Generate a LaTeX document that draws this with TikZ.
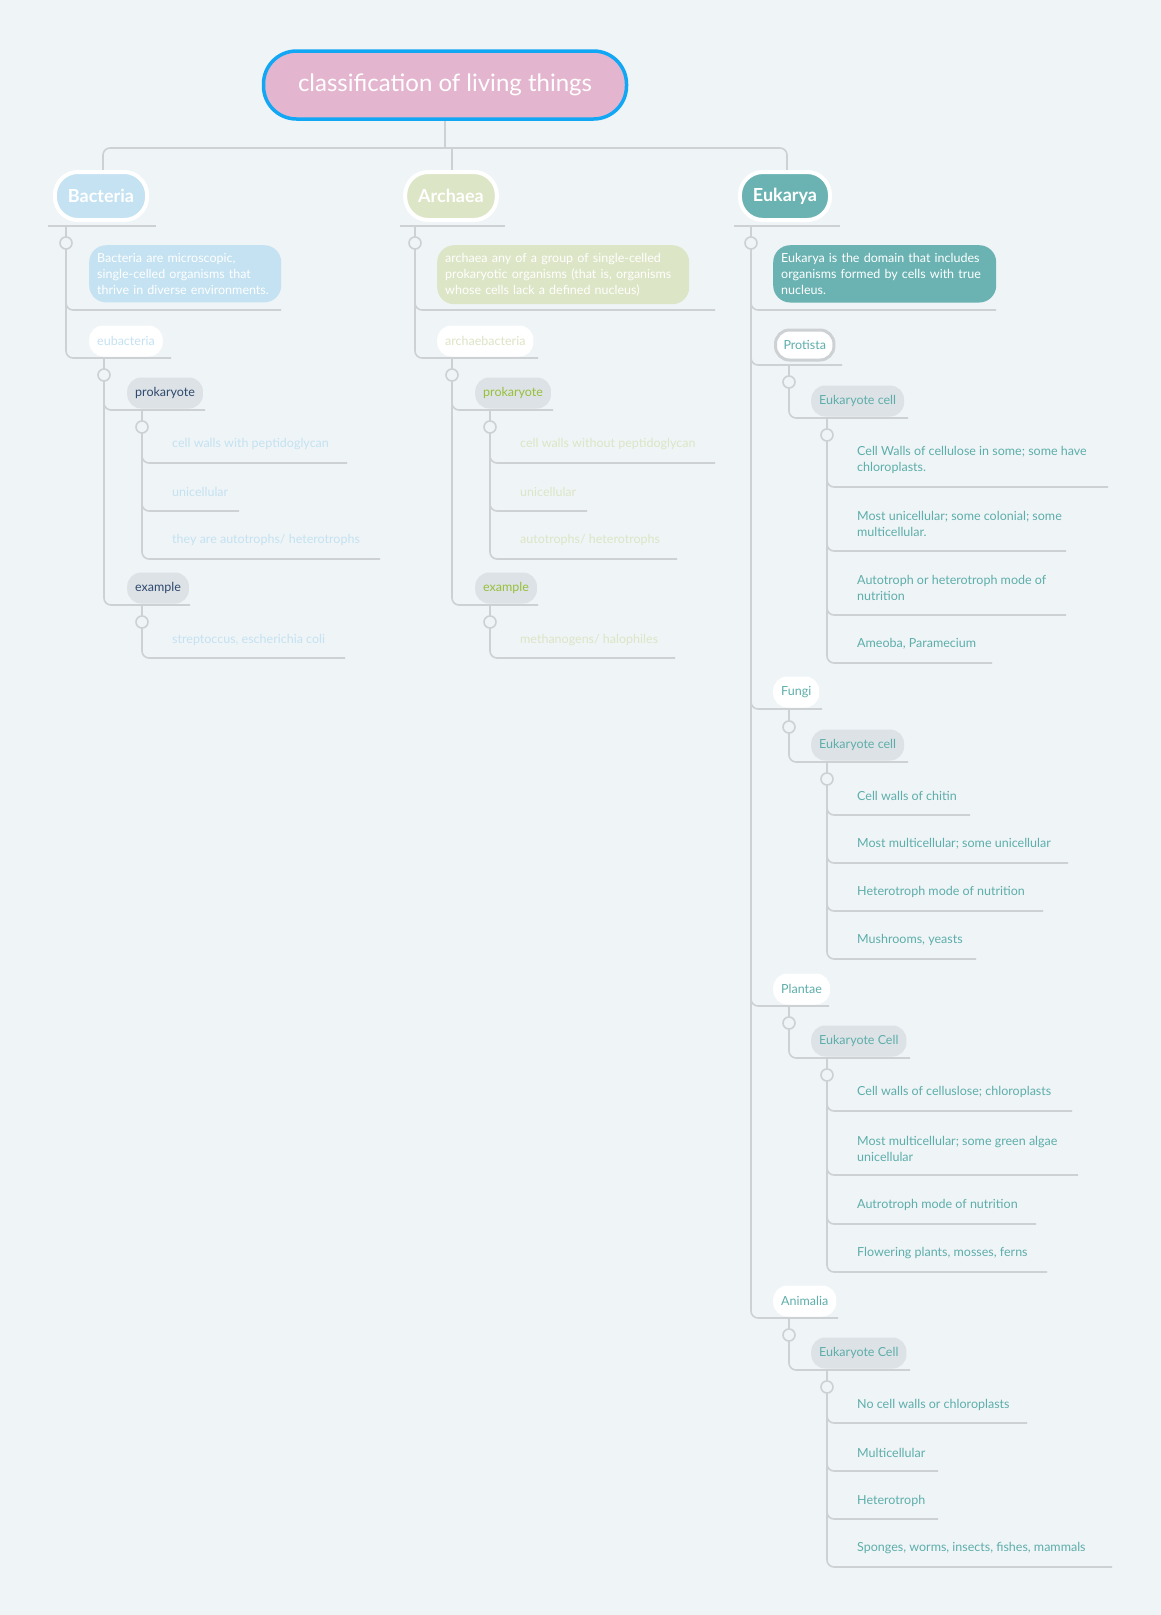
\documentclass[tikz,border=0pt]{standalone}
\usepackage{fontspec}
\setmainfont{Lato}
\definecolor{bg}{HTML}{EFF4F7}
\definecolor{ln}{HTML}{CDD1D4}
\definecolor{rootf}{HTML}{E4B5CE}
\definecolor{rootb}{HTML}{12A7F5}
\definecolor{bac}{HTML}{C4E2F1}
\definecolor{arc}{HTML}{DCE5C5}
\definecolor{euk}{HTML}{6AB3B2}
\definecolor{gp}{HTML}{DDE2E6}
\definecolor{dblue}{HTML}{2E4A6E}
\definecolor{grn}{HTML}{97C03A}
\definecolor{eukt}{HTML}{5DAEAA}
\tikzset{
 lnk/.style={draw=ln,line width=1.6pt,rounded corners=7pt},
 circ/.style={circle,draw=ln,line width=1.6pt,fill=bg,minimum size=12pt,inner sep=0pt},
 pill/.style={rounded corners=14pt,minimum height=31pt,inner xsep=8pt,anchor=west,font=\fontsize{12.5}{14}\selectfont},
 dom/.style={rounded corners=23pt,minimum height=48pt,inner xsep=13pt,draw=white,line width=4pt,text=white,font=\fontsize{18}{20}\selectfont\bfseries},
 desc/.style={rounded corners=17pt,anchor=north west,text=white,align=left,inner xsep=8pt,inner ysep=8pt,font=\fontsize{12.5}{16}\selectfont},
 leaf/.style={anchor=west,align=left,inner sep=0pt,font=\fontsize{12.5}{16}\selectfont},
}
\begin{document}
\begin{tikzpicture}[x=1pt,y=-1pt]
\fill[bg] (0,0) rectangle (1161,1615);
\useasboundingbox (0,0) rectangle (1161,1615);
% root
\node[draw=rootb,line width=3.5pt,fill=rootf,rounded corners=33pt,minimum width=363pt,minimum height=68pt,text=white,font=\fontsize{24}{26}\selectfont] (root) at (445,85) {classification of living things};
\draw[lnk] (root.south) -- (445,148);
\draw[lnk] (103,170) -- (103,148) -- (787,148) -- (787,170);
\draw[lnk] (452,148) -- (452,170);
% domains
\node[dom,fill=bac] (B) at (101,196) {Bacteria};
\node[dom,fill=arc] (A) at (451,196) {Archaea};
\node[dom,fill=euk] (E) at (785,196) {Eukarya};
\draw[lnk] (48,226) -- (156,226);
\draw[lnk] (400,226) -- (505,226);
\draw[lnk] (734,226) -- (840,226);

% ---------- Bacteria
\draw[lnk] (66,226) |- (281,310);
\draw[lnk] (66,226) |- (171,358);
\node[circ] (cB) at (66,243) {};
\node[desc,fill=bac,text width=176pt] (Bd) at (89,245) {Bacteria are microscopic, single-celled organisms that thrive in diverse environments.};
\node[pill,fill=white,text=bac] (eub) at (89,341) {eubacteria};
\draw[lnk] (104,358) |- (205,410);
\draw[lnk] (104,358) |- (190,605);
\node[circ] at (104,375) {};
\node[pill,fill=gp,text=dblue] (Bp) at (127,393) {prokaryote};
\node[pill,fill=gp,text=dblue] (Be) at (127,588) {example};
\draw[lnk] (142,410) |- (347,463);
\draw[lnk] (142,410) |- (239,511);
\draw[lnk] (142,410) |- (380,559);
\node[circ] at (142,427) {};
\node[leaf,text=bac] at (172,444) {cell walls with peptidoglycan};
\node[leaf,text=bac] at (172,492) {unicellular};
\node[leaf,text=bac] at (172,540) {they are autotrophs/ heterotrophs};
\draw[lnk] (142,605) |- (345,658);
\node[circ] at (142,622) {};
\node[leaf,text=bac] at (172,640) {streptoccus, escherichia coli};

% ---------- Archaea
\draw[lnk] (415,226) |- (715,310);
\draw[lnk] (415,226) |- (538,358);
\node[circ] at (415,243) {};
\node[desc,fill=arc,text width=236pt] (Ad) at (437,245) {archaea any of a group of single-celled prokaryotic organisms (that is, organisms whose cells lack a defined nucleus)};
\node[pill,fill=white,text=arc] (arb) at (437,341) {archaebacteria};
\draw[lnk] (452,358) |- (553,410);
\draw[lnk] (452,358) |- (538,605);
\node[circ] at (452,375) {};
\node[pill,fill=gp,text=grn] at (475,393) {prokaryote};
\node[pill,fill=gp,text=grn] at (475,588) {example};
\draw[lnk] (490,410) |- (715,463);
\draw[lnk] (490,410) |- (587,511);
\draw[lnk] (490,410) |- (677,559);
\node[circ] at (490,427) {};
\node[leaf,text=arc] at (520,444) {cell walls without peptidoglycan};
\node[leaf,text=arc] at (520,492) {unicellular};
\node[leaf,text=arc] at (520,540) {autotrophs/ heterotrophs};
\draw[lnk] (490,605) |- (675,658);
\node[circ] at (490,622) {};
\node[leaf,text=arc] at (520,640) {methanogens/ halophiles};

% ---------- Eukarya
\draw[lnk] (751,226) |- (996,310);
\draw[lnk] (751,226) |- (842,365);
\draw[lnk] (751,226) |- (822,709);
\draw[lnk] (751,226) |- (829,1006);
\draw[lnk] (751,226) |- (838,1318);
\node[circ] at (751,243) {};
\node[desc,fill=euk,text width=207pt] at (773,245) {Eukarya is the domain that includes organisms formed by cells with true nucleus.};
\node[pill,fill=white,text=eukt,draw=ln,line width=3pt,minimum height=30pt] (prot) at (774,345) {Protista};
\node[pill,fill=white,text=eukt] (fun) at (773,692) {Fungi};
\node[pill,fill=white,text=eukt] (pla) at (773,989) {Plantae};
\node[pill,fill=white,text=eukt] (ani) at (773,1301) {Animalia};
% Protista
\draw[lnk] (789,365) |- (908,418);
\node[circ] at (789,382) {};
\node[pill,fill=gp,text=eukt] at (811,401) {Eukaryote cell};
\draw[lnk] (827,418) |- (1108,487);
\draw[lnk] (827,418) |- (1066,551);
\draw[lnk] (827,418) |- (1066,615);
\draw[lnk] (827,418) |- (992,663);
\node[circ] at (827,435) {};
\node[leaf,text=eukt] at (857,460) {Cell Walls of cellulose in some; some have\\chloroplasts.};
\node[leaf,text=eukt] at (857,524) {Most unicellular; some colonial; some\\multicellular.};
\node[leaf,text=eukt] at (857,588) {Autotroph or heterotroph mode of\\nutrition};
\node[leaf,text=eukt] at (857,644) {Ameoba, Paramecium};
% Fungi
\draw[lnk] (789,709) |- (908,762);
\node[circ] at (789,727) {};
\node[pill,fill=gp,text=eukt] at (811,745) {Eukaryote cell};
\draw[lnk] (827,762) |- (970,815);
\draw[lnk] (827,762) |- (1068,863);
\draw[lnk] (827,762) |- (1043,911);
\draw[lnk] (827,762) |- (976,959);
\node[circ] at (827,779) {};
\node[leaf,text=eukt] at (857,796) {Cell walls of chitin};
\node[leaf,text=eukt] at (857,844) {Most multicellular; some unicellular};
\node[leaf,text=eukt] at (857,892) {Heterotroph mode of nutrition};
\node[leaf,text=eukt] at (857,940) {Mushrooms, yeasts};
% Plantae
\draw[lnk] (789,1006) |- (910,1058);
\node[circ] at (789,1023) {};
\node[pill,fill=gp,text=eukt] at (811,1041) {Eukaryote Cell};
\draw[lnk] (827,1058) |- (1072,1111);
\draw[lnk] (827,1058) |- (1078,1175);
\draw[lnk] (827,1058) |- (1036,1224);
\draw[lnk] (827,1058) |- (1047,1272);
\node[circ] at (827,1075) {};
\node[leaf,text=eukt] at (857,1092) {Cell walls of celluslose; chloroplasts};
\node[leaf,text=eukt] at (857,1149) {Most multicellular; some green algae\\unicellular};
\node[leaf,text=eukt] at (857,1205) {Autrotroph mode of nutrition};
\node[leaf,text=eukt] at (857,1253) {Flowering plants, mosses, ferns};
% Animalia
\draw[lnk] (789,1318) |- (910,1370);
\node[circ] at (789,1335) {};
\node[pill,fill=gp,text=eukt] at (811,1353) {Eukaryote Cell};
\draw[lnk] (827,1370) |- (1027,1423);
\draw[lnk] (827,1370) |- (938,1471);
\draw[lnk] (827,1370) |- (938,1519);
\draw[lnk] (827,1370) |- (1112,1567);
\node[circ] at (827,1387) {};
\node[leaf,text=eukt] at (857,1405) {No cell walls or chloroplasts};
\node[leaf,text=eukt] at (857,1453) {Multicellular};
\node[leaf,text=eukt] at (857,1501) {Heterotroph};
\node[leaf,text=eukt] at (857,1548) {Sponges, worms, insects, fishes, mammals};
\end{tikzpicture}
\end{document}
